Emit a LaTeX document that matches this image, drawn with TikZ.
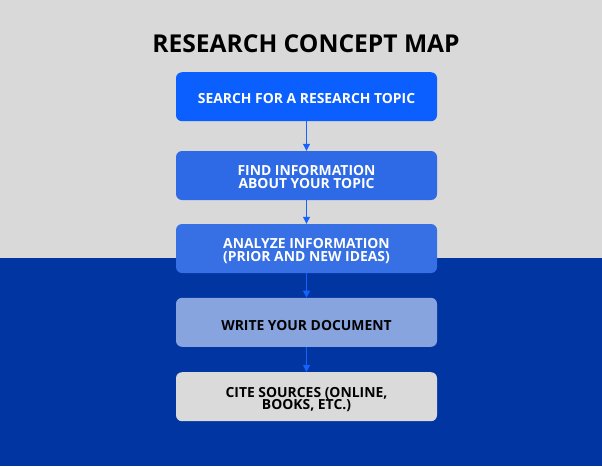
\documentclass[tikz,border=0pt]{standalone}
\usepackage{fontspec}
\setmainfont{Open Sans}
\usetikzlibrary{arrows.meta}
\definecolor{bggray}{HTML}{D9D9D9}
\definecolor{bgblue}{HTML}{0035A2}
\definecolor{c1}{HTML}{0B5FFF}
\definecolor{c2}{HTML}{2F6AE6}
\definecolor{c3}{HTML}{3670E4}
\definecolor{c4}{HTML}{87A4DF}
\definecolor{c5}{HTML}{DADADA}
\definecolor{arr}{HTML}{1463FF}
\tikzset{
  stepbox/.style={rounded corners=6pt, minimum width=261pt, minimum height=49pt,
    inner sep=0pt},
  boxtext/.style={inner sep=0pt, align=center, font=\fontsize{13.9}{12.5}\selectfont\bfseries},
  flow/.style={draw=arr, line width=1pt, -{Triangle[length=7pt,width=7pt]}}
}
\begin{document}
\begin{tikzpicture}[x=1pt,y=-1pt]
\useasboundingbox (0,0) rectangle (602,466);
\fill[bggray] (0,0) rectangle (602,258);
\fill[bgblue] (0,258) rectangle (602,466);
\node[anchor=base, font=\fontsize{24.6}{28}\selectfont\bfseries] (title) at (306,52) {RESEARCH CONCEPT MAP};
\node[stepbox, fill=c1] (b1) at (306.5,96.7) {};
\node[stepbox, fill=c2] (b2) at (306.5,175.5) {};
\node[stepbox, fill=c3] (b3) at (306.5,248.5) {};
\node[stepbox, fill=c4] (b4) at (306.5,322.3) {};
\node[stepbox, fill=c5] (b5) at (306.5,396.7) {};
\node[boxtext, text=white] (t1) at ([yshift=-2pt]b1.center) {SEARCH FOR A RESEARCH TOPIC};
\node[boxtext, text=white] (t2) at ([yshift=-1.5pt]b2.center) {FIND INFORMATION\\ABOUT YOUR TOPIC};
\node[boxtext, text=white] (t3) at ([yshift=-2.5pt]b3.center) {ANALYZE INFORMATION\\(PRIOR AND NEW IDEAS)};
\node[boxtext, text=black] (t4) at ([yshift=-3.5pt]b4.center) {WRITE YOUR DOCUMENT};
\node[boxtext, text=black] (t5) at ([yshift=-3pt]b5.center) {CITE SOURCES (ONLINE,\\BOOKS, ETC.)};
\draw[flow] (b1.south) -- (b2.north);
\draw[flow] (b2.south) -- (b3.north);
\draw[flow] (b3.south) -- (b4.north);
\draw[flow] (b4.south) -- (b5.north);
\end{tikzpicture}
\end{document}
